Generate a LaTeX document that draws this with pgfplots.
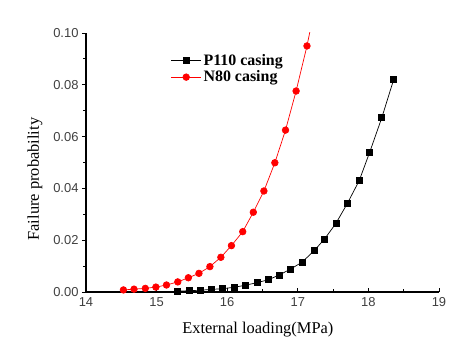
\documentclass[border=0pt]{standalone}
\usepackage{fontspec}
\setmainfont{Liberation Serif}
\newfontfamily\arial{Liberation Sans}
\usepackage{pgfplots}
\pgfplotsset{compat=1.18}
\begin{document}
\begin{tikzpicture}
\path[use as bounding box] (0,0) rectangle (474bp,352bp);
\begin{axis}[
  at={(86bp,60bp)}, anchor=south west,
  scale only axis, width=353bp, height=259bp,
  xmin=14, xmax=19, ymin=0, ymax=0.10,
  clip=true,
  axis lines*=left,
  axis line style={line width=1.1bp, black},
  xtick={14,15,16,17,18,19},
  ytick={0,0.02,0.04,0.06,0.08,0.10},
  minor x tick num=1, minor y tick num=1,
  xtick align=inside, ytick align=outside,
  major tick length=4bp, minor tick length=2.5bp,
  every tick/.style={black, line width=0.8bp},
  scaled y ticks=false,
  /pgf/number format/assume math mode=true,
  yticklabel style={/pgf/number format/.cd, fixed, fixed zerofill, precision=2},
  xticklabel style={yshift=-2bp},
  tick label style={font=\arial\fontsize{13}{13}\selectfont, text=black!75},
  xlabel={External loading(MPa)},
  ylabel={Failure probability},
  label style={font=\fontsize{16.5}{16.5}\selectfont},
  xlabel style={at={(axis description cs:0.487,-0.145)}, anchor=center},
  ylabel style={at={(axis description cs:-0.1445,0.436)}, anchor=center},
  legend style={draw=none, fill=none, at={(axis description cs:0.237,0.93)}, anchor=north west,
    font=\bfseries\fontsize{16}{16}\selectfont, inner sep=1pt, row sep=0pt},
  legend cell align=left,
  legend image code/.code={\draw[mark repeat=2,mark phase=2] plot coordinates {(0bp,0bp) (15bp,0bp) (30bp,0bp)};},
]
\addplot[black, line width=0.7bp, mark=square*, mark size=3bp, mark options={solid}] coordinates {
(15.29,0.0003) (15.46,0.0005) (15.62,0.0007) (15.78,0.0010) (15.935,0.0013)
(16.095,0.0018) (16.255,0.0026) (16.42,0.0036) (16.58,0.0047) (16.74,0.0066)
(16.90,0.0089) (17.06,0.0115) (17.23,0.0159) (17.38,0.0205) (17.54,0.0265)
(17.70,0.0341) (17.87,0.0430) (18.02,0.0541) (18.19,0.0673) (18.36,0.0822)
};
\addlegendentry{P110 casing}
\addplot[red, line width=0.7bp, mark=*, mark size=3.3bp, mark options={solid, fill=red, draw=red}] coordinates {
(14.53,0.0008) (14.68,0.0011) (14.84,0.0014) (14.99,0.0019) (15.14,0.0027)
(15.30,0.0039) (15.45,0.0055) (15.60,0.0072) (15.755,0.0098) (15.91,0.0134)
(16.06,0.0179) (16.22,0.0233) (16.37,0.0308) (16.52,0.0390) (16.675,0.0499)
(16.826,0.0625) (16.976,0.0776) (17.13,0.0950) (17.28,0.115)
};
\addlegendentry{N80 casing}
\end{axis}
\end{tikzpicture}
\end{document}
